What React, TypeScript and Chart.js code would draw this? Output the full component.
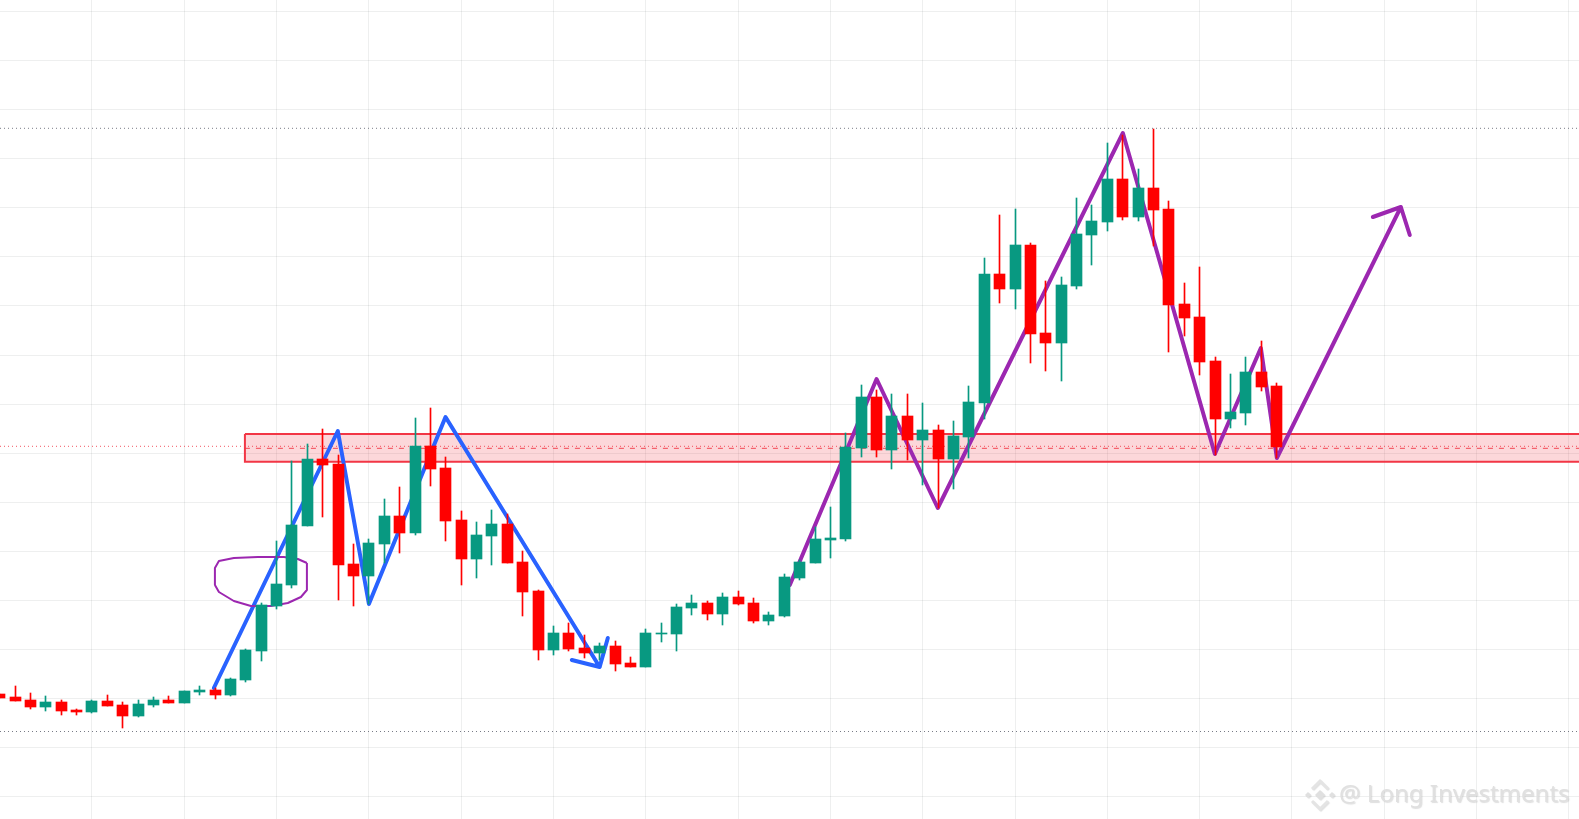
import React, { useEffect, useRef } from "react";
import { Chart, registerables } from "chart.js";

Chart.register(...registerables);

// One row per session: open, high, low, close
const sessions: number[][] = [
  [125,125,121,121],[122,133,118,118],[119,126,110,112],[112,123,108,117],[117,119,104,108],
  [109,110,104,107],[107,119,106,118],[118,124,113,113],[114,117,91,103],[103,119,102,115],
  [114,122,112,119],[119,123,116,116],[116,128,116,128],[127,133,124,129],[129,131,120,124],
  [124,141,123,140],[139,170,137,169],[168,216,158,214],[213,278,210,235],[234,358,231,294],
  [293,375,293,360],[360,390,302,354],[355,364,219,254],[255,275,213,243],[243,280,215,276],
  [275,320,256,303],[303,332,266,286],[286,401,284,373],[373,411,333,350],[351,362,278,298],
  [299,308,234,260],[260,297,241,284],[283,309,254,295],[295,305,256,256],[257,268,203,227],
  [228,229,159,169],[169,193,164,186],[186,196,168,170],[171,184,161,166],[166,176,159,173],
  [173,178,148,155],[156,162,152,152],[152,190,152,186],[185,196,177,186],[185,215,168,212],
  [211,224,204,216],[216,218,199,205],[205,226,194,222],[222,228,214,215],[216,221,196,198],
  [198,207,194,204],[203,245,202,242],[241,259,239,257],[256,292,256,280],[279,312,261,281],
  [280,386,278,372],[371,434,362,422],[422,429,362,369],[369,425,350,403],[403,425,359,379],
  [379,416,334,389],[389,394,311,360],[360,398,330,383],[382,433,361,417],[416,561,400,545],
  [545,604,516,530],[530,610,510,574],[574,576,456,485],[486,538,448,476],[476,542,438,534],
  [533,621,530,585],[584,614,554,598],[597,676,588,640],[640,684,599,602],[602,650,598,631],
  [631,690,573,609],[610,618,467,514],[515,536,483,501],[502,552,444,457],[458,462,364,400],
  [400,445,391,407],[406,462,394,447],[447,478,428,432],[433,436,361,372],
];

const xGridLines = [6,12,18,24,30,36,42,48,54,60,66,72,78,84,90,96,102];
const yGridLines = [23,72,121,170,219,268,317,366,415,464,513.5,563,612,660.5,709,758,807];

const xMin = 0.02;
const xMax = 102.66;
const yMin = 0;
const yMax = 819;

const highLevel = 690.7;
const lowLevel = 87.5;
const pivotLevel = 372.7;
const zoneMid = 370.7;
const zoneTop = 385;
const zoneBottom = 357.3;
const zoneStart = 15.94;

const blueZigzag = [
  [13.92,131],[21.98,388],[24,215],[28.98,402],[39,152],[37.19,159],[39,152],[39.53,181],
];
const purpleZigzag = [
  [51.36,234],[57,440],[60.98,311],[73.01,686],[78.99,365],[81.98,471],[83.02,361],[91.08,612],
  [89.26,602],[91.08,612],[91.66,584],
];
const purpleLoop = [
  [19.97,256],[19.38,260],[18.47,262],[16.78,262],[15.22,261],[14.25,258],[13.99,251],[13.99,234],
  [14.25,227],[15.22,218],[16.33,213],[17.63,213],[18.73,216],[19.58,222],[19.97,229],[19.97,256],
];

const GREEN = "#089981";
const RED = "#ff0000";
const ZONE = "#f23645";
const BLUE = "#2962ff";
const PURPLE = "#9c27b0";
const watermarkText = "@ Long Investments";

const pts = (rows: number[][]) => rows.map(([x, y]) => ({ x, y }));
const redSessions = [0,1,2,4,5,7,8,11,14,21,22,23,26,28,29,30,33,34,35,37,38,40,41,46,48,49,57,59,61,65,67,68,73,75,76,77,78,79,82,83];
const colors = sessions.map((_, i) => (redSessions.includes(i) ? RED : GREEN));

const levelLine = (y: number, from: number, color: string, dash: number[]) => ({
  type: "line" as const,
  data: [{ x: from, y }, { x: xMax, y }],
  borderColor: color,
  borderWidth: 1,
  borderDash: dash,
  pointRadius: 0,
  fill: false,
});

// Candles are crisp in the original, so their bars are aligned with device pixels.
const crispBars = {
  id: "crispBars",
  afterDatasetsUpdate(chart: Chart) {
    chart.data.datasets.forEach((_, idx) => {
      const meta = chart.getDatasetMeta(idx);
      if (meta.type !== "bar") return;
      meta.data.forEach((el: any) => {
        el.x = Math.floor(el.x) + 0.5;
        el.y = Math.round(el.y);
        el.base = Math.round(el.base);
      });
    });
  },
};

const watermark = {
  id: "watermark",
  afterDraw(chart: Chart) {
    const ctx = chart.ctx;
    ctx.save();
    ctx.shadowColor = "rgba(150,150,150,0.3)";
    ctx.shadowBlur = 1;
    ctx.shadowOffsetX = 1;
    ctx.shadowOffsetY = 1;
    ctx.fillStyle = "#e0e0e0";
    ctx.strokeStyle = "#e4e4e4";
    ctx.font = '24px "Noto Sans"';
    ctx.textBaseline = "alphabetic";
    ctx.fillText(watermarkText, 1339, 802);
    const cx = 1320;
    const cy = 795;
    ctx.lineWidth = 3;
    ctx.lineJoin = "miter";
    ctx.beginPath();
    ctx.moveTo(cx - 8, cy - 6); ctx.lineTo(cx, cy - 14); ctx.lineTo(cx + 8, cy - 6);
    ctx.moveTo(cx - 8, cy + 6); ctx.lineTo(cx, cy + 14); ctx.lineTo(cx + 8, cy + 6);
    ctx.stroke();
    const dots: number[][] = [[cx - 12, cy], [cx + 12, cy], [cx, cy]];
    dots.forEach(([x, y], k) => {
      const r = k === 2 ? 5 : 3;
      ctx.beginPath();
      ctx.moveTo(x, y - r); ctx.lineTo(x + r, y); ctx.lineTo(x, y + r); ctx.lineTo(x - r, y);
      ctx.closePath();
      ctx.fill();
    });
    ctx.restore();
  },
};

export default function App() {
  const ref = useRef<HTMLCanvasElement>(null);
  useEffect(() => {
    document.body.style.margin = "0";
    document.body.style.background = "#ffffff";
    const chart = new Chart(ref.current!, {
      type: "bar",
      plugins: [crispBars, watermark],
      data: {
        datasets: [
          {
            label: "body",
            data: sessions.map(([o, , , c], i) => ({ x: i, y: [o, c] })),
            backgroundColor: colors,
            barThickness: 11,
            grouped: false,
            order: 1,
          },
          {
            label: "wick",
            data: sessions.map(([, h, l], i) => ({ x: i, y: [l, h] })),
            backgroundColor: colors,
            barThickness: 1,
            grouped: false,
            order: 2,
          },
          { label: "purple", type: "line", data: pts(purpleZigzag), borderColor: PURPLE, borderWidth: 4, pointRadius: 0, fill: false, tension: 0, borderJoinStyle: "round", borderCapStyle: "round", order: 3 },
          { label: "loop", type: "line", data: pts(purpleLoop), borderColor: PURPLE, borderWidth: 2, pointRadius: 0, fill: false, tension: 0, borderJoinStyle: "round", order: 4 },
          { label: "blue", type: "line", data: pts(blueZigzag), borderColor: BLUE, borderWidth: 4, pointRadius: 0, fill: false, tension: 0, borderJoinStyle: "round", borderCapStyle: "round", order: 5 },
          { ...levelLine(zoneMid, zoneStart, "rgba(242,54,69,0.9)", [5, 6]), label: "mid", order: 6 },
          {
            label: "zone",
            type: "line",
            data: pts([[zoneStart, zoneTop],[xMax + 1, zoneTop],[xMax + 1, zoneBottom],[zoneStart, zoneBottom],[zoneStart, zoneTop]]),
            borderColor: ZONE,
            borderWidth: 2,
            backgroundColor: "rgba(242,54,69,0.2)",
            pointRadius: 0,
            fill: "shape",
            tension: 0,
            order: 7,
          },
          { ...levelLine(pivotLevel, xMin, "rgba(242,54,69,0.85)", [1, 3]), label: "pivot", order: 8 },
          { ...levelLine(highLevel, xMin, "#787b86", [1, 3]), label: "high", order: 9 },
          { ...levelLine(lowLevel, xMin, "#787b86", [1, 3]), label: "low", order: 10 },
        ] as any,
      },
      options: {
        responsive: false,
        animation: false,
        maintainAspectRatio: false,
        layout: { padding: 0 },
        plugins: { legend: { display: false }, tooltip: { enabled: false }, title: { display: false } },
        scales: {
          x: {
            type: "linear",
            min: xMin,
            max: xMax,
            offset: false,
            afterBuildTicks: (s: any) => { s.ticks = xGridLines.map((value) => ({ value })); },
            ticks: { display: false },
            border: { display: false },
            grid: { color: "rgba(42,46,57,0.08)", lineWidth: 1, drawTicks: false, offset: false },
          },
          y: {
            type: "linear",
            min: yMin,
            max: yMax,
            afterBuildTicks: (s: any) => { s.ticks = yGridLines.map((value) => ({ value })); },
            ticks: { display: false },
            border: { display: false },
            grid: { color: "rgba(42,46,57,0.08)", lineWidth: 1, drawTicks: false },
          },
        },
      } as any,
    });
    return () => chart.destroy();
  }, []);
  return (
    <canvas ref={ref} width={1579} height={819} style={{ position: "absolute", left: 0, top: 0, display: "block" }} />
  );
}
